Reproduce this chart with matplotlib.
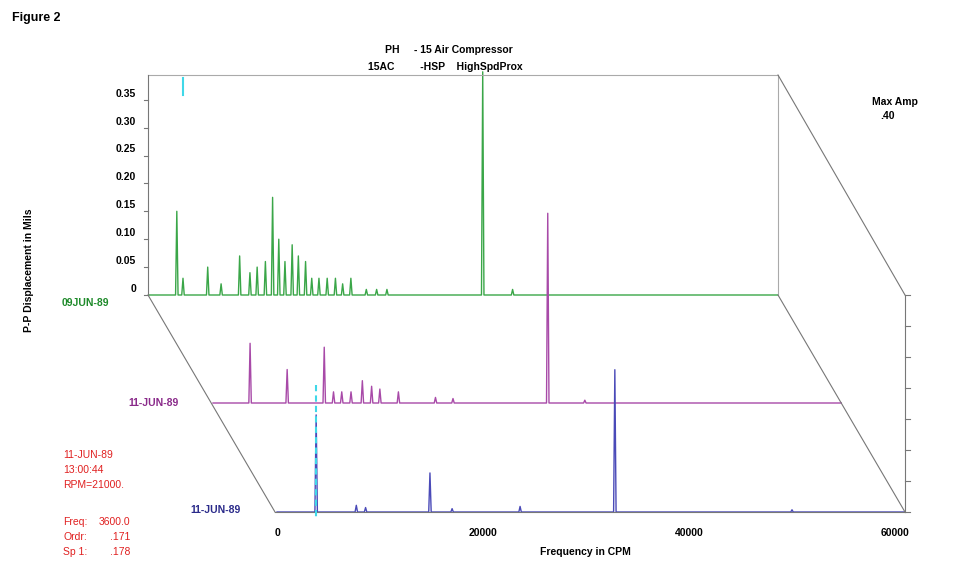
import matplotlib
matplotlib.use("Agg")
import matplotlib.pyplot as plt
from matplotlib.transforms import Affine2D
import numpy as np

plt.rcParams['font.family'] = ['Liberation Sans', 'DejaVu Sans']
plt.rcParams['font.weight'] = 'bold'

# ---- data (CPM, amplitude mils) ----
back_freq = [2700, 3300, 5700, 7000, 8800, 9800, 10500, 11300, 12000, 12600, 13200, 13900, 14500,
             15200, 15800, 16500, 17300, 18100, 18800, 19600, 21100, 22100, 23100, 32400, 35300]
back_amp = [0.15, 0.03, 0.05, 0.02, 0.07, 0.04, 0.05, 0.06, 0.175, 0.10, 0.06, 0.09, 0.07,
            0.06, 0.03, 0.03, 0.03, 0.03, 0.02, 0.03, 0.01, 0.01, 0.01, 0.40, 0.01]
mid_freq = [3600, 7200, 10800, 11700, 12500, 13400, 14500, 15400, 16200, 18000, 21600, 23300, 32500, 36100]
mid_amp = [0.107, 0.06, 0.10, 0.02, 0.02, 0.02, 0.04, 0.03, 0.025, 0.02, 0.01, 0.008, 0.34, 0.005]
front_freq = [3800, 7700, 8600, 14850, 17000, 23600, 32800, 50000]
front_amp = [0.174, 0.012, 0.008, 0.07, 0.006, 0.01, 0.255, 0.004]
dates = ["09JUN-89", "11-JUN-89", "11-JUN-89"]
ytick_vals = [0, 0.05, 0.10, 0.15, 0.20, 0.25, 0.30, 0.35]
ytick_labels = ["0", "0.05", "0.10", "0.15", "0.20", "0.25", "0.30", "0.35"]
xtick_vals = [0, 20000, 40000, 60000]

fig = plt.figure(figsize=(9.8, 5.77), dpi=100)
ax = fig.add_axes([0, 0, 1, 1])
ax.set_xlim(0, 980); ax.set_ylim(577, 0); ax.axis('off')

SX = 10.3 / 1000.0   # px per CPM
SY = 558.0           # px per mil
origins = [(149, 295), (213, 403), (277, 512)]
colors = ['#3aa648', '#a84aa8', '#4a4ab8']
series = [(back_freq, back_amp), (mid_freq, mid_amp), (front_freq, front_amp)]

def spectrum(freqs, amps):
    x = [0.0]; y = [0.0]
    for f, a in sorted(zip(freqs, amps)):
        x += [f - 120, f, f + 120]; y += [0.0, a, 0.0]
    x.append(61000); y.append(0.0)
    return np.array(x), np.array(y)

for (fq, am), (x0, y0), c in zip(series, origins, colors):
    t = Affine2D().scale(SX, -SY).translate(x0, y0) + ax.transData
    x, y = spectrum(fq, am)
    ax.plot(x, y, color=c, lw=1.0, transform=t)

gc = '#777777'
ax.plot([148, 778, 778], [75, 75, 295], color='#aaaaaa', lw=0.8)
ax.plot([148, 148], [75, 295], color=gc, lw=0.8)
ax.plot([148, 275], [295, 512], color=gc, lw=0.8)
ax.plot([778, 905], [75, 295], color=gc, lw=0.8)
ax.plot([778, 905], [295, 512], color=gc, lw=0.8)
ax.plot([905, 905], [295, 512], color=gc, lw=0.8)
ax.plot([275, 905], [512, 512], color=gc, lw=0.8)
for v in np.linspace(295, 512, 8):
    ax.plot([905, 910], [v, v], color=gc, lw=0.8)

for v, lab in zip(ytick_vals, ytick_labels):
    yy = 295 - v * SY
    ax.plot([144, 148], [yy, yy], color=gc, lw=0.8)
    ax.text(136, yy - 6, lab, ha='right', va='center', fontsize=7.5)
for v in xtick_vals:
    xx = 277 + v * SX
    ax.text(xx, 533, f"{v}", ha='center', va='center', fontsize=7.5)

ax.plot([316, 316], [385, 520], color='#40d8e8', lw=1.5, ls=(0, (3, 2)))
ax.plot([183, 183], [78, 95], color='#40d8e8', lw=1.5)

ax.text(12, 18, "Figure 2", fontsize=9, fontweight='bold', va='center')
ax.text(385, 50, "PH     - 15 Air Compressor", fontsize=7.5, va='center')
ax.text(368, 67, "15AC         -HSP    HighSpdProx", fontsize=7.5, va='center')
ax.text(872, 102, "Max Amp", fontsize=7.5, va='center')
ax.text(880, 116, ".40", fontsize=7.5, va='center')
ax.text(29, 270, "P-P Displacement in Mils", rotation=90, fontsize=7.5, ha='center', va='center')
ax.text(62, 303, dates[0], color='#1e8a2a', fontsize=7.5, va='center')
ax.text(128, 403, dates[1], color='#8a2a8a', fontsize=7.5, va='center')
ax.text(190, 510, dates[2], color='#2a2a8a', fontsize=7.5, va='center')
ax.text(540, 552, "Frequency in CPM", fontsize=7.5, va='center')
red = '#e02020'
for i, s in enumerate(["11-JUN-89", "13:00:44", "RPM=21000."]):
    ax.text(63, 455 + 15 * i, s, color=red, fontsize=7.5, va='center', fontweight='normal')
for i, (a, b) in enumerate([("Freq:", "3600.0"), ("Ordr:", ".171"), ("Sp 1:", ".178")]):
    ax.text(63, 522 + 15 * i, a, color=red, fontsize=7.5, va='center', fontweight='normal')
    ax.text(130, 522 + 15 * i, b, color=red, fontsize=7.5, va='center', ha='right', fontweight='normal')

fig.savefig("out.png", dpi=100)
